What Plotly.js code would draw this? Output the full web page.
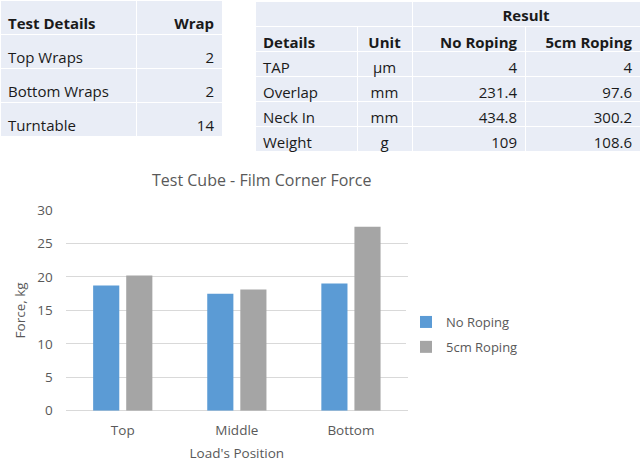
<!DOCTYPE html>
<html>
<head>
<meta charset="utf-8">
<script src="https://cdn.plot.ly/plotly-3.0.1.min.js"></script>
<style>
  html, body { margin: 0; padding: 0; background: #ffffff; }
  #chart { width: 640px; height: 475px; }
</style>
</head>
<body>
<div id="chart"></div>
<script>
// wrap settings table
const wrapHeader = ['Test\u00a0Details', 'Wrap'];
const wrapLabels = ['Top Wraps', 'Bottom Wraps', 'Turntable'];
const wrapCounts = ['2', '2', '14'];

// film result table
const resultHeader = ['Details', 'Unit', 'No\u00a0Roping', '5cm\u00a0Roping'];
const detailNames = ['TAP', 'Overlap', 'Neck In', 'Weight'];
const detailUnits = ['\u00b5m', 'mm', 'mm', 'g'];
const noRopingResult = ['4', '231.4', '434.8', '109'];
const roping5cmResult = ['4', '97.6', '300.2', '108.6'];

// corner force chart
const positions = ['Top', 'Middle', 'Bottom'];
const noRopingForce = [18.7, 17.5, 19.0];
const roping5cmForce = [20.2, 18.1, 27.5];

const fillColor = '#e9edf6';
const textColor = '#1a1a1a';
const chartText = '#595959';
const clear = 'rgba(0,0,0,0)';
const tableFont = {family: 'Open Sans, sans-serif', size: 15, color: textColor};
const boldFont = {family: 'Open Sans, sans-serif', size: 15, color: textColor, weight: 'bold'};

const px = (v) => v / 640;
const py = (v) => 1 - v / 475;
const blank = (col) => col.map(() => '');

// a table trace; text tables sit over a blank grid table so the text can be pushed down
const makeTable = (opts) => ({
    type: 'table',
    domain: opts.domain,
    columnwidth: opts.widths,
    header: {
        values: opts.header,
        align: opts.align,
        height: opts.headerHeight,
        fill: {color: opts.grid ? fillColor : clear},
        line: {color: opts.grid ? '#ffffff' : clear, width: 1},
        font: boldFont,
    },
    cells: {
        values: opts.cells,
        align: opts.align,
        height: opts.rowHeight,
        fill: {color: opts.grid ? fillColor : clear},
        line: {color: opts.grid ? '#ffffff' : clear, width: 1},
        font: tableFont,
    },
});

const wrapCells = [wrapLabels, wrapCounts];
const resultCells = [detailNames, detailUnits, noRopingResult, roping5cmResult];

const tables = [
    // wrap table
    makeTable({
        grid: true, domain: {x: [0, px(222)], y: [py(142), 1]}, widths: [136, 86],
        header: blank(wrapHeader), cells: wrapCells.map(blank),
        align: ['left', 'right'], headerHeight: 34, rowHeight: 34,
    }),
    makeTable({
        grid: false, domain: {x: [0, px(222)], y: [py(152), py(10)]}, widths: [136, 86],
        header: wrapHeader, cells: wrapCells,
        align: ['left', 'right'], headerHeight: 34, rowHeight: 34,
    }),
    // "Result" row spanning the two result columns
    makeTable({
        grid: true, domain: {x: [px(255), 1], y: [py(30), py(1)]}, widths: [157, 228],
        header: ['', ''], cells: [[], []],
        align: ['left', 'center'], headerHeight: 25, rowHeight: 25,
    }),
    makeTable({
        grid: false, domain: {x: [px(255), 1], y: [py(31), py(2)]}, widths: [157, 228],
        header: ['', 'Result'], cells: [[], []],
        align: ['left', 'center'], headerHeight: 25, rowHeight: 25,
    }),
    // result table
    makeTable({
        grid: true, domain: {x: [px(255), 1], y: [py(160), py(26)]}, widths: [102, 55, 113, 115],
        header: blank(resultHeader), cells: resultCells.map(blank),
        align: ['left', 'center', 'right', 'right'], headerHeight: 25, rowHeight: 25,
    }),
    makeTable({
        grid: false, domain: {x: [px(255), 1], y: [py(165), py(29)]}, widths: [102, 55, 113, 115],
        header: resultHeader, cells: resultCells,
        align: ['left', 'center', 'right', 'right'], headerHeight: 25, rowHeight: 25,
    }),
];

const noRopingBar = {
    type: 'bar',
    name: 'No Roping',
    legendgroup: 'noRoping',
    x: positions,
    y: noRopingForce,
    marker: {color: '#5b9bd5'},
};

const roping5cmBar = {
    type: 'bar',
    name: '5cm Roping',
    legendgroup: 'roping5cm',
    x: positions,
    y: roping5cmForce,
    marker: {color: '#a5a5a5'},
};

const data = tables.concat([noRopingBar, roping5cmBar]);

const layout = {
    width: 640,
    height: 475,
    margin: {l: 0, r: 0, t: 0, b: 0},
    paper_bgcolor: '#ffffff',
    plot_bgcolor: '#ffffff',
    font: {family: 'Open Sans, sans-serif', color: chartText, size: 13},
    barmode: 'group',
    bargap: 0.42,
    bargroupgap: 0.21,
    showlegend: true,
    legend: {
        x: px(406),
        y: py(307),
        xanchor: 'left',
        yanchor: 'top',
        font: {size: 13, color: chartText},
        itemwidth: 30,
        tracegroupgap: 5,
    },
    annotations: [
        {
            text: 'Test Cube - Film Corner Force',
            xref: 'paper', yref: 'paper',
            x: px(262), y: py(180),
            xanchor: 'center', yanchor: 'middle',
            showarrow: false,
            font: {size: 16, color: chartText},
        },
    ],
    xaxis: {
        domain: [px(65.7), px(408)],
        type: 'category',
        showgrid: false,
        showline: false,
        zeroline: false,
        ticks: '',
        ticklabelstandoff: 10,
        tickfont: {size: 13.5, color: chartText},
        title: {text: "Load's Position", font: {size: 13.5, color: chartText}, standoff: 10},
        automargin: false,
    },
    yaxis: {
        domain: [py(410.7), py(210)],
        range: [0, 30],
        dtick: 5,
        showgrid: true,
        gridcolor: '#d9d9d9',
        zeroline: true,
        zerolinecolor: '#d9d9d9',
        zerolinewidth: 1,
        showline: false,
        ticks: '',
        ticklabelstandoff: 12,
        tickfont: {size: 13.5, color: chartText},
        title: {text: 'Force, kg', font: {size: 13.5, color: chartText}, standoff: 8},
        automargin: false,
    },
};

Plotly.newPlot('chart', data, layout, {displayModeBar: false, staticPlot: true});
</script>
</body>
</html>
